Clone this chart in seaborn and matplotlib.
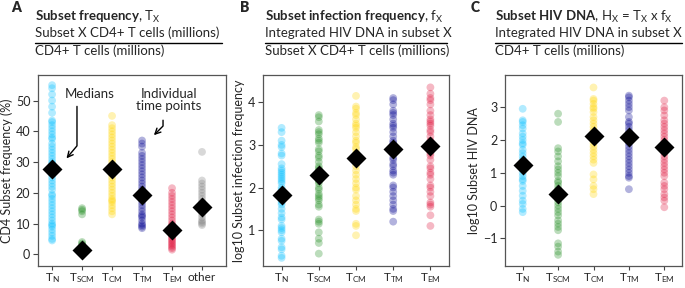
import matplotlib
matplotlib.use("Agg")
import matplotlib.pyplot as plt
from matplotlib.lines import Line2D
import pandas as pd
import seaborn as sns

# panel A: CD4 subset frequency (%)
freq_TN = [55, 54, 52, 50, 48, 46, 43.5, 43, 42, 41, 40, 39, 38, 37.5, 36, 35, 34, 33, 32, 31, 30,
           29.5, 28.5, 27, 26, 25, 24, 23, 22, 21, 19.5, 19, 18, 17, 16, 15, 14, 13, 12, 11, 10,
           9.5, 9, 8, 7, 6, 5, 4.5]
freq_TSCM = [15, 14.5, 14, 13, 4, 3.5, 3, 2, 1.5, 1]
freq_TCM = [45, 42, 41, 40, 39, 38, 37, 36, 35, 34, 33, 32, 31, 30, 29, 28, 27.5, 27, 26, 25, 24,
            23, 22, 21, 20, 19, 18, 17.5, 17, 16, 15, 14, 13]
freq_TTM = [37, 36, 35, 33, 32, 31, 30, 29, 28, 27, 26, 25, 24, 23, 22, 21, 20, 19.5, 19, 18, 17,
            16, 15, 14, 13, 12.5, 12, 11, 10, 9.5, 9, 8.5]
freq_TEM = [21.5, 20, 19, 18, 17, 16, 15, 14, 13, 12, 11, 10, 9.5, 9, 8.5, 8, 7, 6.5, 6, 5.5, 5,
            4.5, 4, 3.5, 3, 2.5, 2, 1.5]
freq_other = [33.3, 24, 23, 22, 21, 20, 19, 18, 17, 16, 15.5, 15, 14, 13, 12, 11, 10.5, 10, 9.5]
freq_medians = [27.8, 1.5, 27.8, 19.2, 8.0, 15.5]

# panel B: log10 subset infection frequency
inf_TN = [3.4, 3.3, 3.1, 3.0, 2.95, 2.8, 2.75, 2.55, 2.45, 2.4, 2.35, 2.3, 2.25, 2.2, 2.15, 2.1,
          2.0, 1.95, 1.9, 1.85, 1.8, 1.75, 1.7, 1.65, 1.6, 1.5, 1.4, 1.3, 1.25, 1.1, 1.05, 1.0,
          0.95, 0.8, 0.75, 0.6, 0.55, 0.4, 0.35]
inf_TSCM = [3.7, 3.65, 3.55, 3.35, 3.3, 3.25, 3.15, 3.1, 3.05, 2.9, 2.85, 2.75, 2.7, 2.6, 2.5,
            2.45, 2.4, 2.35, 2.3, 2.2, 2.15, 2.1, 2.0, 1.95, 1.85, 1.8, 1.75, 1.7, 1.6, 1.55,
            1.25, 1.2, 1.15, 0.95, 0.8, 0.7, 0.45]
inf_TCM = [4.15, 3.9, 3.85, 3.75, 3.7, 3.6, 3.5, 3.45, 3.4, 3.3, 3.2, 3.1, 3.05, 2.95, 2.9, 2.8,
           2.7, 2.6, 2.5, 2.4, 2.3, 2.2, 2.1, 2.0, 1.95, 1.8, 1.7, 1.6, 1.5, 1.45, 1.15, 1.1, 0.88]
inf_TTM = [4.1, 4.05, 3.95, 3.8, 3.75, 3.7, 3.6, 3.5, 3.45, 3.4, 3.3, 3.2, 3.1, 3.05, 3.0, 2.9,
           2.8, 2.7, 2.65, 2.55, 2.5, 2.4, 2.35, 2.3, 2.05, 2.0, 1.9, 1.8, 1.7, 1.6, 1.5, 1.45, 1.2]
inf_TEM = [4.35, 4.2, 4.1, 4.05, 3.95, 3.8, 3.7, 3.6, 3.55, 3.5, 3.45, 3.35, 3.3, 3.2, 3.1, 3.0,
           2.95, 2.9, 2.8, 2.75, 2.65, 2.5, 2.45, 2.35, 2.3, 2.2, 2.05, 2.0, 1.9, 1.8, 1.65, 1.6,
           1.55, 1.35, 1.1]
inf_medians = [1.82, 2.3, 2.7, 2.9, 2.98]

# panel C: log10 subset HIV DNA
dna_TN = [2.95, 2.6, 2.55, 2.45, 2.35, 2.2, 2.1, 2.0, 1.9, 1.85, 1.7, 1.6, 1.5, 1.4, 1.3, 1.2,
          1.1, 1.0, 0.9, 0.8, 0.75, 0.6, 0.45, 0.3, 0.15, 0.05, -0.1, -0.2]
dna_TSCM = [2.8, 2.55, 1.75, 1.65, 1.5, 1.35, 1.2, 1.1, 1.0, 0.9, 0.75, 0.7, 0.6, 0.5, 0.4, 0.3,
            0.2, 0.1, 0.0, -0.1, -0.2, -0.3, -0.45, -0.55, -0.65, -0.75, -1.15, -1.25, -1.4, -1.5]
dna_TCM = [3.6, 3.25, 3.2, 3.1, 3.0, 2.95, 2.85, 2.7, 2.6, 2.5, 2.4, 2.3, 2.2, 2.1, 2.0, 1.9,
           1.8, 1.7, 1.6, 1.5, 1.4, 1.3, 0.95, 0.8, 0.6, 0.5, 0.35]
dna_TTM = [3.35, 3.3, 3.2, 3.1, 3.0, 2.9, 2.7, 2.55, 2.5, 2.4, 2.3, 2.2, 2.1, 2.0, 1.9, 1.8,
           1.7, 1.6, 1.5, 1.4, 1.3, 1.2, 1.1, 1.0, 0.9, 0.85, 0.5]
dna_TEM = [3.2, 3.0, 2.9, 2.75, 2.6, 2.5, 2.4, 2.3, 2.2, 2.1, 2.0, 1.9, 1.8, 1.7, 1.6, 1.5, 1.4,
           1.3, 1.2, 1.1, 1.0, 0.9, 0.7, 0.6, 0.5, 0.35, 0.25, 0.15, -0.05]
dna_medians = [1.25, 0.35, 2.12, 2.08, 1.8]

subsets = ["TN", "TSCM", "TCM", "TTM", "TEM", "other"]
tick_labels = [r"T$_\mathrm{N}$", r"T$_\mathrm{SCM}$", r"T$_\mathrm{CM}$",
               r"T$_\mathrm{TM}$", r"T$_\mathrm{EM}$", "other"]
colors = {"TN": "#00BFFF", "TSCM": "#1E8C1E", "TCM": "#FFD500",
          "TTM": "#000090", "TEM": "#E0143C", "other": "#808080"}

sns.set_style("ticks")
plt.rcParams["font.family"] = ["Lato", "DejaVu Sans"]
plt.rcParams["mathtext.fontset"] = "custom"
plt.rcParams["mathtext.rm"] = "Lato"
plt.rcParams["mathtext.bf"] = "Lato:bold"
plt.rcParams["mathtext.it"] = "Lato:italic"


def long_frame(cols):
    rows = []
    for name, vals in zip(subsets, cols):
        rows += [(name, v) for v in vals]
    return pd.DataFrame(rows, columns=["subset", "value"])


fig = plt.figure(figsize=(6.85, 2.88), dpi=100)
W, H = 685, 288


def px_axes(x0, x1, y0, y1):
    return fig.add_axes([x0 / W, 1 - y1 / H, (x1 - x0) / W, (y1 - y0) / H])


axA = px_axes(38, 226, 75, 266)
axB = px_axes(263, 449, 75, 266)
axC = px_axes(505, 682, 75, 266)

panels = [
    (axA, [freq_TN, freq_TSCM, freq_TCM, freq_TTM, freq_TEM, freq_other], freq_medians,
     "CD4 Subset frequency (%)", (-3.8, 58.3), (-0.47, 5.8), [0, 10, 20, 30, 40, 50]),
    (axB, [inf_TN, inf_TSCM, inf_TCM, inf_TTM, inf_TEM], inf_medians,
     "log10 Subset infection frequency", (0.16, 4.64), (-0.5, 4.5), [1, 2, 3, 4]),
    (axC, [dna_TN, dna_TSCM, dna_TCM, dna_TTM, dna_TEM], dna_medians,
     "log10 Subset HIV DNA", (-1.84, 3.98), (-0.5, 4.5), [-1, 0, 1, 2, 3]),
]

for ax, cols, meds, ylabel, ylim, xlim, yticks in panels:
    n = len(cols)
    df = long_frame(cols)
    order = subsets[:n]
    sns.stripplot(data=df, x="subset", y="value", hue="subset", order=order,
                  palette=colors, jitter=False, alpha=0.3, size=5.6, linewidth=0,
                  legend=False, ax=ax, zorder=2)
    med_df = pd.DataFrame({"subset": order, "value": meds})
    sns.pointplot(data=med_df, x="subset", y="value", order=order, color="black",
                  markers="D", linestyle="none", errorbar=None, markersize=8.5,
                  ax=ax, zorder=5)
    ax.set_ylim(*ylim)
    ax.set_xlim(*xlim)
    ax.set_yticks(yticks)
    ax.set_xticks(range(n))
    ax.set_xticklabels(tick_labels[:n], fontsize=8.5)
    ax.set_xlabel("")
    ax.set_ylabel(ylabel, fontsize=9, labelpad=2)
    ax.tick_params(axis="y", labelsize=9, length=3.5, color="#444444", pad=2)
    ax.tick_params(axis="x", length=3, color="#444444", pad=1)
    for sp in ax.spines.values():
        sp.set_visible(True)
        sp.set_color("#555555")
        sp.set_linewidth(0.9)

# annotations in panel A
axA.text(1.27, 52.2, "Medians", ha="center", va="center", fontsize=9.5)
axA.annotate("", xy=(0.42, 30.5), xytext=(0.83, 49),
             arrowprops=dict(arrowstyle="->", lw=1, color="black",
                             connectionstyle="angle,angleA=90,angleB=50,rad=0"))
axA.text(3.9, 50.3, "Individual\ntime points", ha="center", va="center", fontsize=9.5,
         linespacing=1.0)
axA.annotate("", xy=(3.33, 38.1), xytext=(3.7, 44.5),
             arrowprops=dict(arrowstyle="->", lw=1, color="black",
                             connectionstyle="angle,angleA=90,angleB=45,rad=0"))

# headers with fraction lines
headers = [
    ("A", 11, 35, 222, r"$\mathbf{Subset\ frequency}$, T$_\mathrm{X}$",
     "Subset X CD4+ T cells (millions)", "CD4+ T cells (millions)"),
    ("B", 240, 265, 447, r"$\mathbf{Subset\ infection\ frequency}$, f$_\mathrm{X}$",
     "Integrated HIV DNA in subset X", "Subset X CD4+ T cells (millions)"),
    ("C", 471, 495, 682,
     r"$\mathbf{Subset\ HIV\ DNA}$, H$_\mathrm{X}$ = T$_\mathrm{X}$ x f$_\mathrm{X}$",
     "Integrated HIV DNA in subset X", "CD4+ T cells (millions)"),
]
for letter, lx, tx, x_end, title, num, den in headers:
    fig.text(lx / W, 1 - 12 / H, letter, fontsize=10, fontweight="heavy", va="baseline")
    fig.text(tx / W, 1 - 21 / H, title, fontsize=9.5, va="baseline")
    fig.text(tx / W, 1 - 37 / H, num, fontsize=9.5, va="baseline")
    fig.text(tx / W, 1 - 55 / H, den, fontsize=9.5, va="baseline")
    fig.add_artist(Line2D([tx / W, x_end / W], [1 - 42.5 / H, 1 - 42.5 / H],
                          color="black", lw=1, transform=fig.transFigure))

fig.savefig("out.png", dpi=100)
